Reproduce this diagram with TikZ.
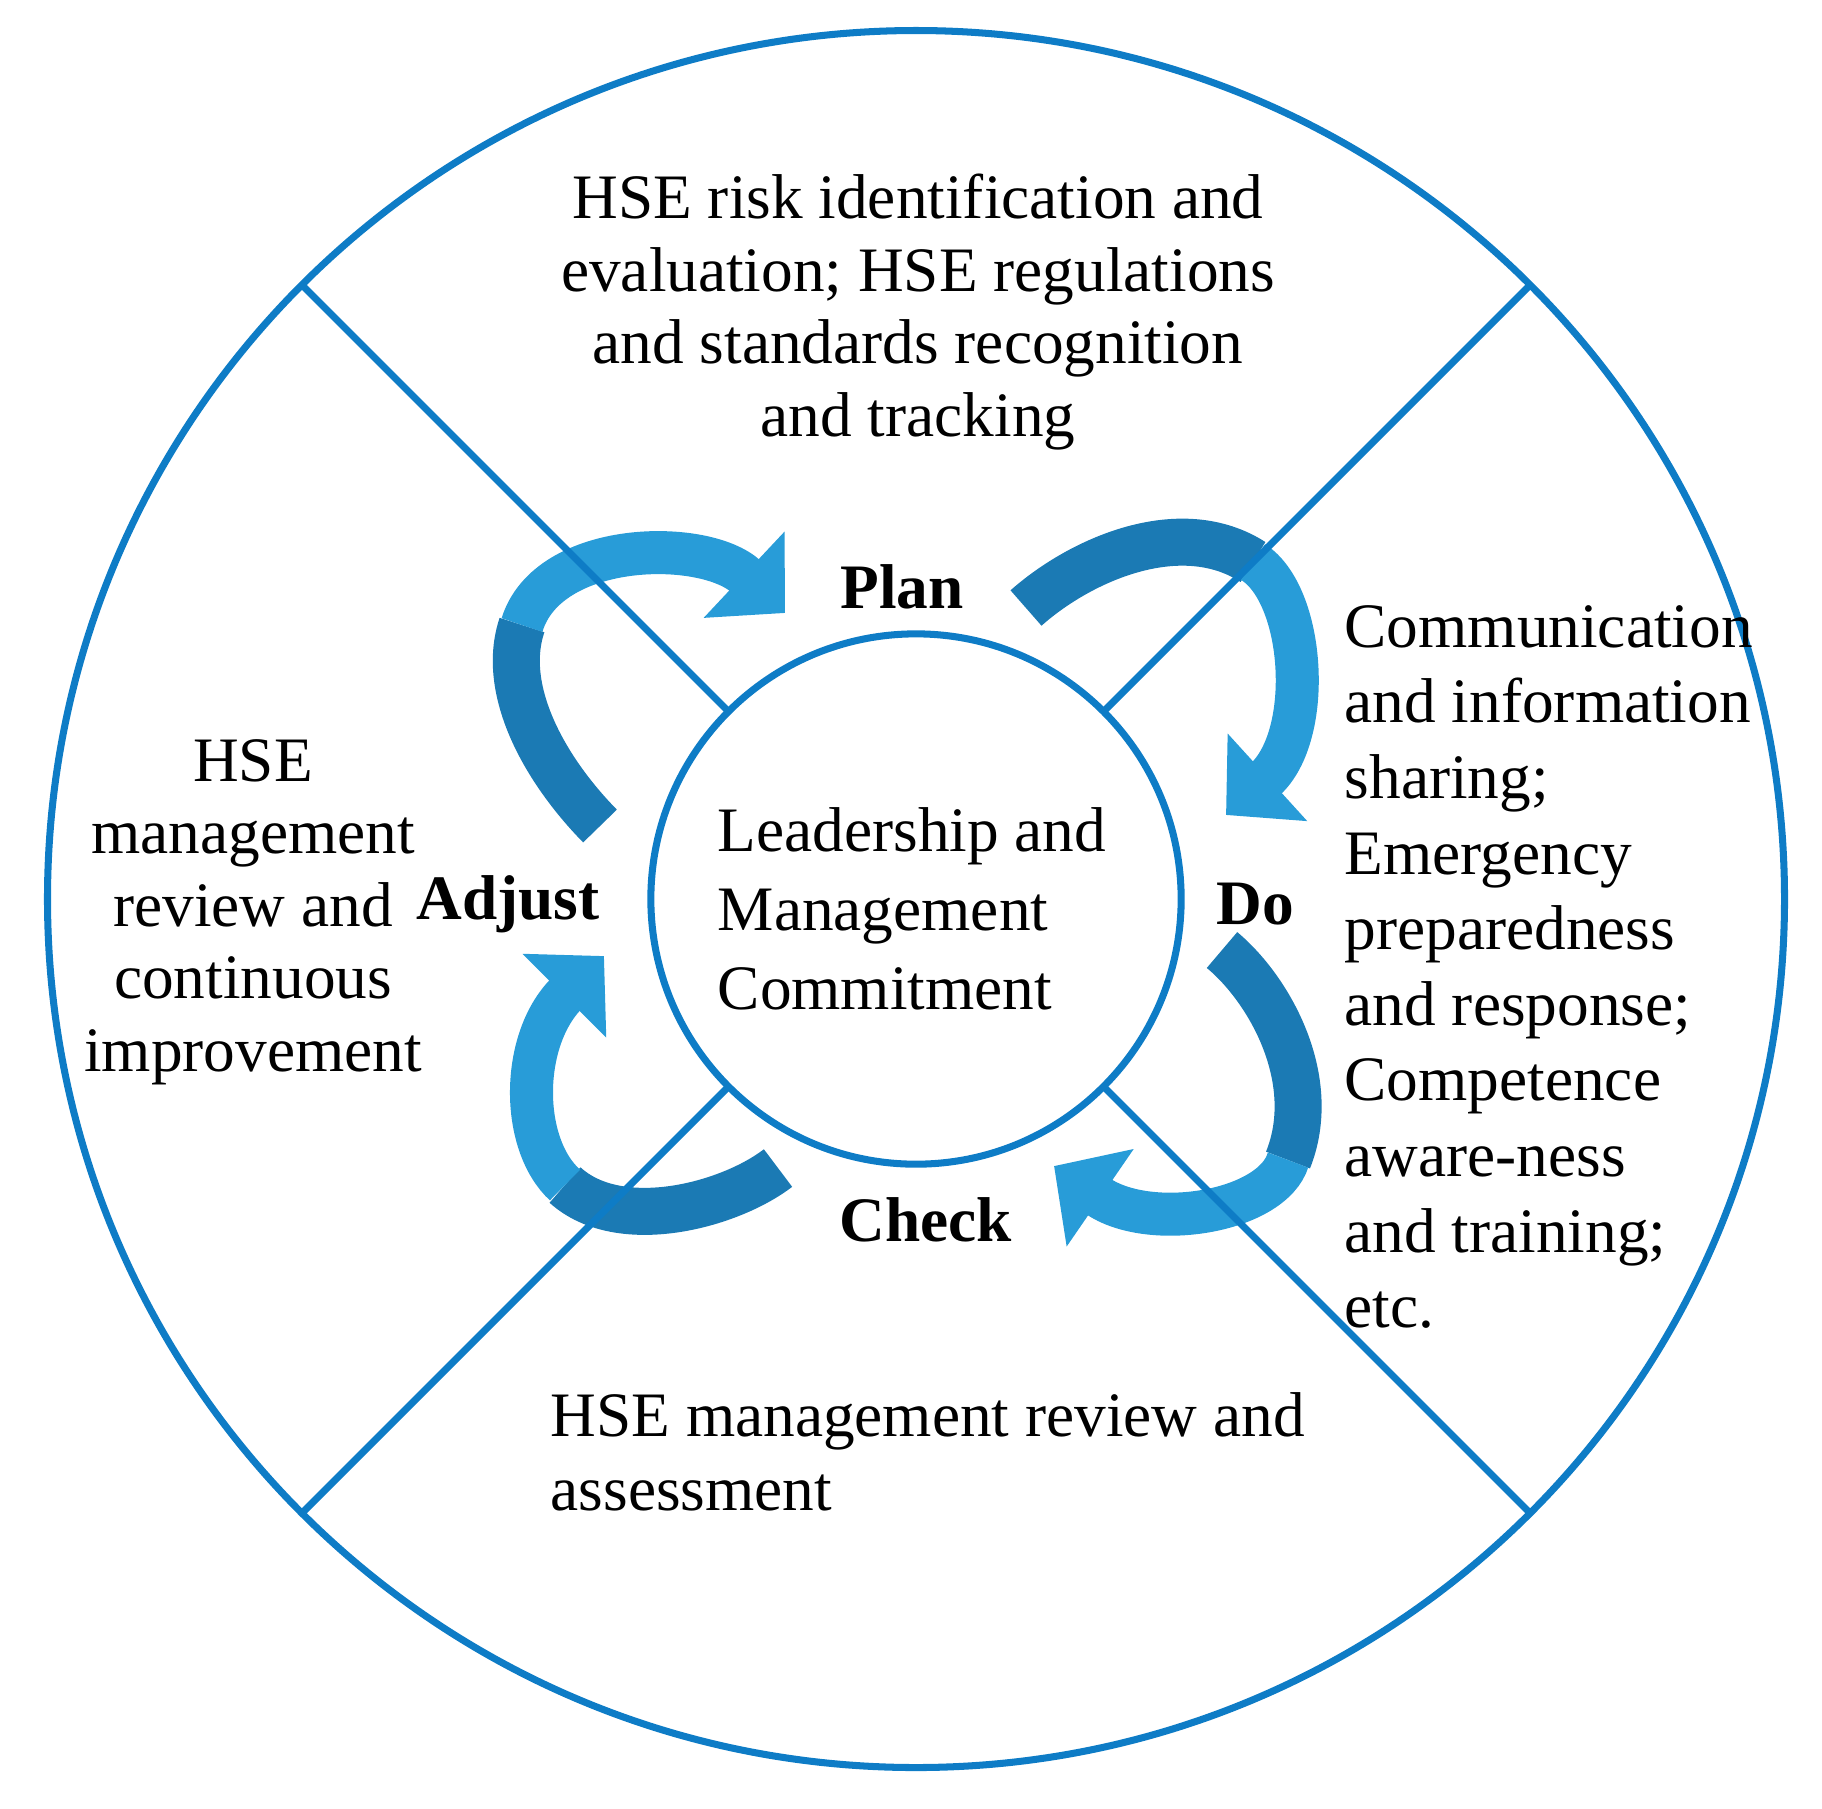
\documentclass[tikz,border=0pt]{standalone}
\usepackage{fontspec}
\setmainfont{Liberation Serif}
\usetikzlibrary{arrows.meta}
\definecolor{ringblue}{RGB}{14,124,198}
\definecolor{arrowlight}{RGB}{40,156,216}
\definecolor{arrowdark}{RGB}{27,122,180}

\begin{document}
\begin{tikzpicture}[x=0.01cm, y=-0.01cm,
    ring/.style={circle, draw=ringblue, line width=2pt, inner sep=0pt, outer sep=0pt},
    spoke/.style={draw=ringblue, line width=2pt},
    body/.style={font=\fontsize{18}{20.6}\selectfont, inner sep=0pt},
    stage/.style={font=\fontsize{18}{21}\selectfont\bfseries, inner sep=0pt},
    backface/.style={draw=arrowdark, line width=0.47cm},
    frontface/.style={draw=arrowlight, line width=0.43cm, -{Triangle[width=1.15cm, length=0.56cm]}}]

\useasboundingbox (0,0) rectangle (1822,1808);

\coordinate (adjTail) at (600,826);
\coordinate (adjTurn) at (522,625);
\coordinate (planTip) at (785,613);
\coordinate (planTail) at (1026,608);
\coordinate (planTurn) at (1253,562);
\coordinate (doTip) at (1226,815);
\coordinate (doTail) at (1222,950);
\coordinate (doTurn) at (1288,1160);
\coordinate (checkTip) at (1054,1166);
\coordinate (checkTail) at (778,1168);
\coordinate (checkTurn) at (565,1185);
\coordinate (adjTip) at (604,956);

\draw[backface] (adjTail) .. controls (545,770) and (500,690) .. (adjTurn);
\draw[frontface] (adjTurn) .. controls (548,540) and (705,538) .. (planTip);
\draw[backface] (planTail) .. controls (1080,560) and (1180,515) .. (planTurn);
\draw[frontface] (planTurn) .. controls (1305,595) and (1314,735) .. (doTip);
\draw[backface] (doTail) .. controls (1270,990) and (1320,1080) .. (doTurn);
\draw[frontface] (doTurn) .. controls (1272,1212) and (1150,1232) .. (checkTip);
\draw[backface] (checkTail) .. controls (730,1205) and (620,1235) .. (checkTurn);
\draw[frontface] (checkTurn) .. controls (520,1144) and (520,1040) .. (adjTip);

\node[ring, minimum size=17.36cm] (rim) at (916,899) {};
\node[ring, minimum size=5.3cm] (core) at (916,899) {};
\draw[spoke] (core.45) -- (rim.45);
\draw[spoke] (core.135) -- (rim.135);
\draw[spoke] (core.225) -- (rim.225);
\draw[spoke] (core.315) -- (rim.315);

\node[body, align=left, font=\fontsize{18}{22.5}\selectfont] (lead) at (912,909) {Leadership and\\Management\\Commitment};
\node[stage] (plan) at (902,587) {Plan};
\node[stage] (do) at (1255,904) {Do};
\node[stage] (check) at (926,1220) {Check};
\node[stage] (adjust) at (508,904) {Adjust};

\node[body, align=center] (planText) at (918,312) {HSE risk identification and\\evaluation; HSE regulations\\and standards recognition\\and tracking};
\node[body, align=left, anchor=west, font=\fontsize{18}{21.5}\selectfont] (doText) at (1344,967) {Communication\\and information\\sharing;\\Emergency\\preparedness\\and response;\\Competence\\aware-ness\\and training;\\etc.};
\node[body, align=left, anchor=west, font=\fontsize{18}{21}\selectfont] (checkText) at (550,1452) {HSE management review and\\assessment};
\node[body, align=center] (adjText) at (253,912) {HSE\\management\\review and\\continuous\\improvement};
\end{tikzpicture}
\end{document}
